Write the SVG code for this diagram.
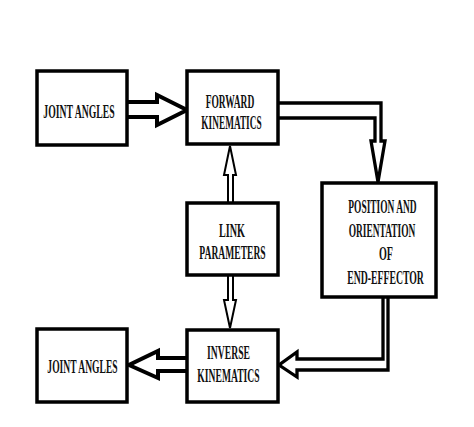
<svg xmlns="http://www.w3.org/2000/svg" width="474" height="427" viewBox="0 0 474 427">
<style>
.box{fill:#fff;stroke:#000;stroke-width:3.5}
.t{font-family:"Liberation Serif","Times New Roman",serif;font-weight:bold;font-size:19.5px;fill:#111;text-anchor:middle}
.thick{fill:#fff;stroke:#000;stroke-width:4;stroke-linejoin:miter}
.mid{fill:#fff;stroke:#000;stroke-width:3.3;stroke-linejoin:miter}
.thin{fill:#fff;stroke:#000;stroke-width:2;stroke-linejoin:miter}
</style>
<rect width="474" height="427" fill="#fff"/>
<g id="connectors">
<path class="thick" d="M127,102 H157 V95 L187,110 L157,125 V117 H127"/>
<path class="mid" d="M277,103 H381 V141 H385 L378,182 L371,141 H375 V118 H277"/>
<path class="thin" d="M228,203 V175 H224 L230,146 L236,175 H233 V203"/>
<path class="thin" d="M228,275 V300 H224 L230,328 L236,300 H233 V275"/>
<path class="mid" d="M383,297 V359 H297 V352 L279,365 L297,377 V370 H388 V297"/>
<path class="thick" d="M187,358 H158 V351 L129,365 L158,378 V371 H187"/>
</g>
<g id="joint-angles-top">
<rect class="box" x="37" y="71" width="90" height="74"/>
<text class="t" transform="translate(79,118) scale(0.498,1)">JOINT ANGLES</text>
</g>
<g id="forward-kinematics">
<rect class="box" x="187" y="71" width="91" height="73"/>
<text class="t" transform="translate(230,108) scale(0.486,1)">FORWARD</text>
<text class="t" transform="translate(231.5,129) scale(0.477,1)">KINEMATICS</text>
</g>
<g id="link-parameters">
<rect class="box" x="187" y="203" width="91" height="72"/>
<text class="t" transform="translate(232,237) scale(0.522,1)">LINK</text>
<text class="t" transform="translate(232.5,259) scale(0.491,1)">PARAMETERS</text>
</g>
<g id="position-orientation">
<rect class="box" x="322" y="183" width="114" height="114"/>
<text class="t" transform="translate(382.5,213) scale(0.484,1)">POSITION AND</text>
<text class="t" transform="translate(382,237) scale(0.483,1)">ORIENTATION</text>
<text class="t" transform="translate(386,260) scale(0.517,1)">OF</text>
<text class="t" transform="translate(385.5,284) scale(0.5,1)">END-EFFECTOR</text>
</g>
<g id="inverse-kinematics">
<rect class="box" x="187" y="330" width="91" height="72"/>
<text class="t" transform="translate(228.5,359) scale(0.496,1)">INVERSE</text>
<text class="t" transform="translate(228.5,382) scale(0.493,1)">KINEMATICS</text>
</g>
<g id="joint-angles-bottom">
<rect class="box" x="37" y="329" width="90" height="73"/>
<text class="t" transform="translate(82.5,373) scale(0.491,1)">JOINT ANGLES</text>
</g>
</svg>
